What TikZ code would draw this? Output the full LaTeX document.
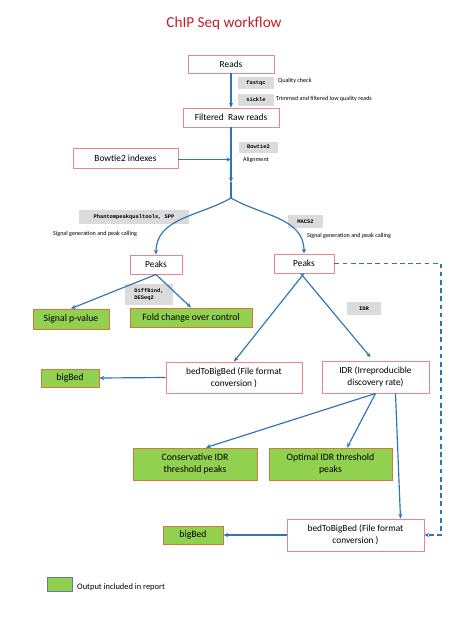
\documentclass[tikz,border=0pt]{standalone}
\usepackage{fontspec}
\setmainfont{Carlito}
\newfontfamily\toolfont{Liberation Mono}
\usetikzlibrary{arrows.meta}

\definecolor{boxred}{HTML}{E8868C}
\definecolor{outgreen}{HTML}{92D050}
\definecolor{outedge}{HTML}{D2783C}
\definecolor{flowblue}{HTML}{2E75B6}
\definecolor{titlered}{HTML}{C0202A}
\definecolor{keyedge}{HTML}{5B7FA6}

\begin{document}
\begin{tikzpicture}[
			x=0.03cm, y=-0.03cm,
			procbox/.style={
				rectangle,
				draw=boxred,
				line width=0.8pt,
				fill=white,
				inner sep=0pt,
				align=center,
				font=\fontsize{8}{10.4}\selectfont
			},
			outbox/.style={
				rectangle,
				draw=outedge,
				line width=0.8pt,
				fill=outgreen,
				inner sep=0pt,
				align=center,
				font=\fontsize{8.3}{10.4}\selectfont
			},
			toolbox/.style={
				rectangle,
				fill=gray!28,
				inner sep=0pt,
				font=\toolfont\bfseries\fontsize{4.6}{6}\selectfont
			},
			note/.style={
				anchor=west,
				inner sep=0pt,
				font=\fontsize{5.2}{6}\selectfont
			},
			arrow/.style={
				-{Stealth[length=4pt,width=3.5pt]},
				draw=flowblue,
				line width=1pt
			},
			dasharrow/.style={
				arrow,
				dashed,
				dash pattern=on 4pt off 3pt
			}
			]
			\useasboundingbox (0,0) rectangle (474,631);
			
			\node (title) [font=\fontsize{13}{15}\selectfont, text=titlered] at (224,23) {ChIP Seq workflow};
			
			% main column
			\node (reads) [procbox, minimum width=86*0.03cm, minimum height=18*0.03cm] at (231,64) {Reads};
			\node (filt) [procbox, minimum width=96*0.03cm, minimum height=19*0.03cm] at (231,117.5) {Filtered\ \ Raw reads};
			\node (idx) [procbox, minimum width=105*0.03cm, minimum height=20*0.03cm] at (125.5,158.5) {Bowtie2 indexes};
			
			\node (fastqc) [toolbox, minimum width=36*0.03cm, minimum height=12*0.03cm] at (256,83) {fastqc};
			\node (sickle) [toolbox, minimum width=36*0.03cm, minimum height=12*0.03cm] at (256,100) {sickle};
			\node (bowtie) [toolbox, minimum width=39*0.03cm, minimum height=11*0.03cm] at (258.5,147) {Bowtie2};
			\node (qc) [note] at (278,81) {Quality check};
			\node (trim) [note] at (276,99) {Trimmed and filtered low quality reads};
			\node (align) [note] at (243,160) {Alignment};
			
			\coordinate (join) at (231,159.5);
			\coordinate (mid) at (231,182);
			\coordinate (split) at (231,198);
			
			% peak calling
			\node (lpeaks) [procbox, minimum width=52*0.03cm, minimum height=19*0.03cm] at (156,264.5) {Peaks};
			\node (rpeaks) [procbox, minimum width=60*0.03cm, minimum height=19*0.03cm] at (304,263.5) {Peaks};
			\node (spp) [toolbox, minimum width=110*0.03cm, minimum height=14*0.03cm] at (134,217) {Phantompeakqualtools, SPP};
			\node (macs) [toolbox, minimum width=35*0.03cm, minimum height=13*0.03cm] at (305.5,221.5) {MACS2};
			\node (lsig) [note] at (53,234) {Signal generation and peak calling};
			\node (rsig) [note] at (307,236) {Signal generation and peak calling};
			
			\node (diff) [toolbox, minimum width=48*0.03cm, minimum height=21*0.03cm, align=left] at (149,294.5) {DiffBind,\\DESeq2};
			\node (sigp) [outbox, minimum width=76*0.03cm, minimum height=20*0.03cm] at (71,319) {Signal p-value};
			\node (fold) [outbox, minimum width=122*0.03cm, minimum height=19*0.03cm] at (191,317.5) {Fold change over control};
			
			% IDR branch
			\node (idrtool) [toolbox, minimum width=34*0.03cm, minimum height=13*0.03cm] at (364,308.5) {IDR};
			\node (bed1) [procbox, minimum width=136*0.03cm, minimum height=31*0.03cm] at (234,377.5) {bedToBigBed (File format\\conversion )};
			\node (big1) [outbox, minimum width=58*0.03cm, minimum height=18*0.03cm] at (70,378) {bigBed};
			\node (idr) [procbox, minimum width=107*0.03cm, minimum height=32*0.03cm] at (375.5,377) {IDR (Irreproducible\\discovery rate)};
			\node (cons) [outbox, minimum width=124*0.03cm, minimum height=32*0.03cm] at (195,464) {Conservative IDR\\threshold peaks};
			\node (opt) [outbox, minimum width=123*0.03cm, minimum height=32*0.03cm] at (330.5,464) {Optimal IDR threshold\\peaks};
			\node (bed2) [procbox, minimum width=137*0.03cm, minimum height=32*0.03cm] at (355.5,535) {bedToBigBed (File format\\conversion )};
			\node (big2) [outbox, minimum width=60*0.03cm, minimum height=18*0.03cm] at (193,535) {bigBed};
			
			\coordinate (dbot) at (441,535);
			
			% legend
			\node (key) [rectangle, draw=keyedge, line width=0.6pt, fill=outgreen, minimum width=25*0.03cm, minimum height=14*0.03cm] at (59.5,584) {};
			\node (keytext) [note, font=\fontsize{7.2}{8}\selectfont] at (77,587) {Output included in report};
			
			\draw [arrow] (reads) -- (filt);
			\draw [arrow] (filt) -- (mid);
			\draw [arrow, -] (mid) -- (split);
			\draw [arrow] (idx.east |- join) -- (join);
			\draw [arrow] (split) to[out=210, in=90] (lpeaks.north);
			\draw [arrow] (split) to[out=-30, in=90] (rpeaks.north);
			
			\draw [arrow] (lpeaks.south) -- (sigp.north);
			\draw [arrow] (lpeaks.south) -- (fold.north);
			
			\draw [arrow] (rpeaks.south) -- (bed1.north);
			\draw [arrow] ([xshift=-0.1cm]rpeaks.south) -- ([xshift=-0.15cm,yshift=0.1cm]idr.north);
			\draw [arrow] (bed1.west) -- (big1.east);
			
			\draw [arrow] (idr.south) -- ([xshift=0.33cm]cons.north);
			\draw [arrow] (idr.south) -- ([xshift=0.5cm]opt.north);
			\draw [arrow] ([xshift=0.6cm]idr.south) -- ([xshift=1.35cm]bed2.north);
			\draw [arrow] (bed2.west) -- (big2.east);
			
			\draw [dasharrow] (rpeaks.east) -| (dbot) -- (bed2.east);
			
		\end{tikzpicture}
\end{document}
